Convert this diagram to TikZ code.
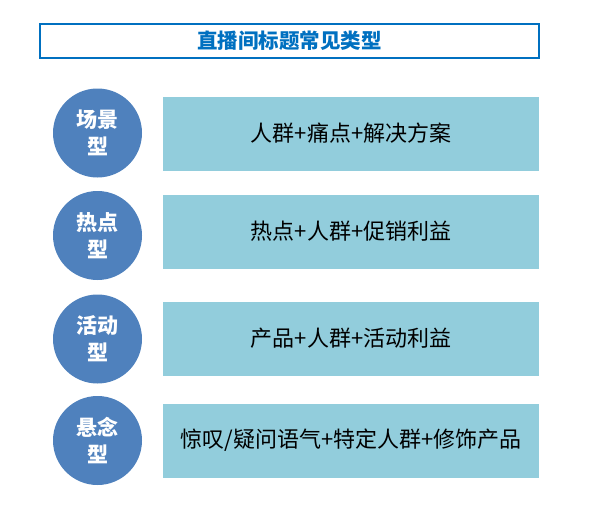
\documentclass[tikz,border=0pt]{standalone}
\usepackage{fontspec}
\setmainfont{Noto Sans CJK SC}
\usetikzlibrary{positioning}
\definecolor{titleblue}{HTML}{0070C0}
\definecolor{circblue}{HTML}{4F81BD}
\definecolor{boxcyan}{HTML}{92CDDC}

\begin{document}
\begin{tikzpicture}[x=1pt, y=-1pt,
	titlebox/.style={draw=titleblue, line width=1.6pt, minimum width=499pt, minimum height=34pt, inner sep=0pt, text=titleblue, font=\fontsize{20.5}{22}\selectfont\bfseries},
	typecirc/.style={circle, fill=circblue, minimum size=89pt, inner sep=0pt, text=white, align=center, font=\fontsize{21}{27}\selectfont\bfseries},
	formbox/.style={fill=boxcyan, minimum width=376pt, minimum height=74pt, inner sep=0pt, font=\fontsize{22}{24}\selectfont}]
	%%%%% START %%%%%
	
	\useasboundingbox (0, 0) rectangle (596, 509);
	
	\node[titlebox] (title) at (289.5, 41) {直播间标题常见类型};
	
	\node[typecirc] (c1) at (97.5, 133) {场景\\型};
	\node[formbox] (b1) at (351, 133.5) {人群+痛点+解决方案};
	
	\node[typecirc] (c2) at (97.5, 235.5) {热点\\型};
	\node[formbox] (b2) at (351, 231.5) {热点+人群+促销利益};
	
	\node[typecirc] (c3) at (97.5, 339) {活动\\型};
	\node[formbox] (b3) at (351, 338.5) {产品+人群+活动利益};
	
	\node[typecirc] (c4) at (97.5, 440.5) {悬念\\型};
	\node[formbox] (b4) at (351, 440.5) {惊叹/疑问语气+特定人群+修饰产品};
	
	%%%%% END %%%%%
\end{tikzpicture}
\end{document}
